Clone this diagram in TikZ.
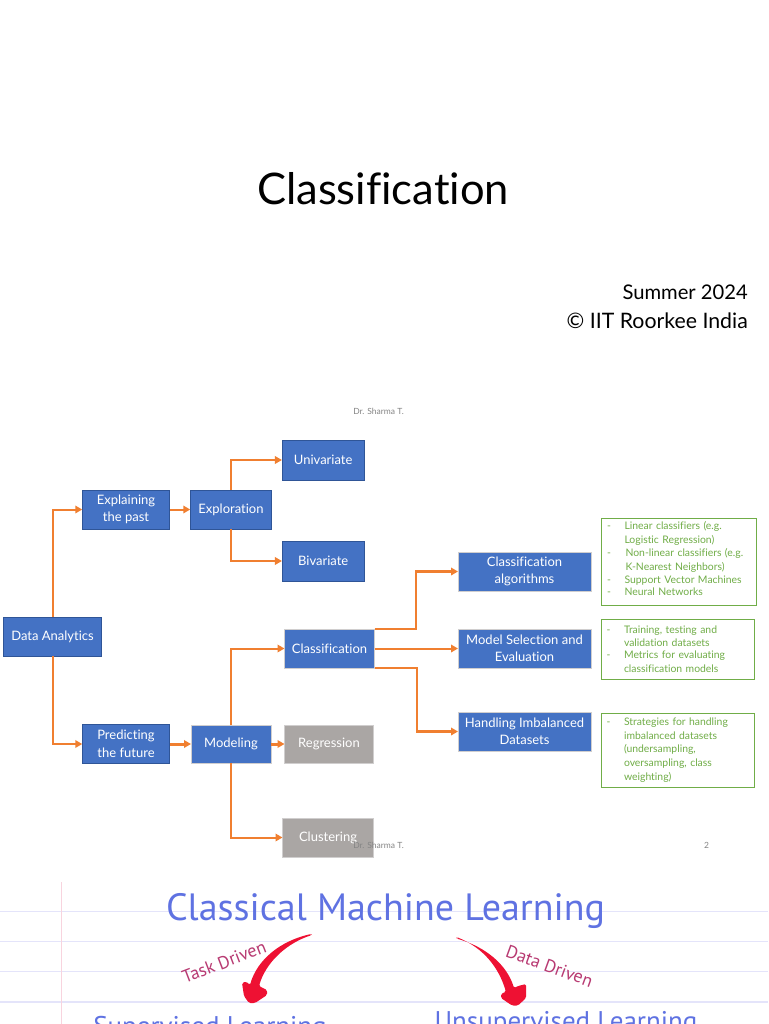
\documentclass[tikz,border=0pt]{standalone}
\usepackage{fontspec}
\setmainfont{Lato}[Ligatures=NoCommon]
\newfontfamily\handfont{PT Sans}
\usetikzlibrary{arrows.meta,calc}
\definecolor{bluefill}{HTML}{4472C4}
\definecolor{blueedge}{HTML}{2F5597}
\definecolor{greyfill}{HTML}{AAA6A4}
\definecolor{greyedge}{HTML}{D0CECE}
\definecolor{orangeln}{HTML}{F07F30}
\definecolor{greenln}{HTML}{70AD47}
\definecolor{footgrey}{HTML}{858585}
\definecolor{ruleln}{HTML}{E4E4FA}
\definecolor{marginln}{HTML}{F8D4DE}
\definecolor{handblue}{HTML}{5F72E2}
\definecolor{handred}{HTML}{EE1133}
\definecolor{handpink}{HTML}{B83A72}
\newcommand{\gd}{\makebox[17.5pt][l]{-}}
\newcommand{\gi}{\hspace*{17.5pt}}
\tikzset{
  x=1pt,y=-1pt,
  bluebox/.style={draw=blueedge,line width=0.6pt,fill=bluefill,text=white,inner sep=0pt,outer sep=0pt,align=center,font=\fontsize{13}{17.5}\selectfont},
  paleblue/.style={bluebox,draw=greyedge},
  greybox/.style={bluebox,draw=greyedge,fill=greyfill},
  greenbox/.style={draw=greenln,line width=1pt,text=greenln,inner sep=0pt,outer sep=0pt,align=left,font=\fontsize{10.4}{13.6}\selectfont},
  conn/.style={draw=orangeln,line width=2pt,-{Triangle[length=7pt,width=7.5pt]}},
  connthick/.style={conn,line width=3pt},
  foot/.style={text=footgrey,font=\fontsize{8.5}{10}\selectfont,inner sep=0pt},
  rule/.style={draw=ruleln,line width=1pt},
  handt/.style={font=\handfont,inner sep=0pt},
}
\begin{document}
\begin{tikzpicture}
\useasboundingbox (0,0) rectangle (768,1024);
\clip (0,0) rectangle (768,1024);
\fill[white] (0,0) rectangle (768,1024);

% first slide
\node[inner sep=0pt,font=\fontsize{43.5}{50}\selectfont] (title) at (383,189) {Classification};
\node[inner sep=0pt,anchor=east,font=\fontsize{20.2}{24}\selectfont] (sub1) at (748,292) {Summer 2024};
\node[inner sep=0pt,anchor=east,font=\fontsize{21.3}{24}\selectfont] (sub2) at (748,320.5) {© IIT Roorkee India};

% boxes
\node[bluebox,minimum width=98pt,minimum height=39pt] (da) at (52.5,636.5) {Data Analytics};
\node[bluebox,minimum width=87.5pt,minimum height=39pt] (ep) at (126,509.5) {Explaining\\the past};
\node[bluebox,minimum width=81.5pt,minimum height=39pt] (ex) at (231,509.5) {Exploration};
\node[bluebox,minimum width=82.5pt,minimum height=40pt] (un) at (323.2,460) {Univariate};
\node[bluebox,minimum width=82.5pt,minimum height=40pt] (bi) at (323.2,561) {Bivariate};
\node[bluebox,minimum width=87.5pt,minimum height=39pt] (pf) at (126,744) {Predicting\\the future};
\node[paleblue,minimum width=80pt,minimum height=38pt] (mo) at (231,744) {Modeling};
\node[paleblue,minimum width=90pt,minimum height=39pt] (cl) at (329.5,648.5) {Classification};
\node[greybox,minimum width=89pt,minimum height=38pt] (re) at (329,744) {Regression};
\node[greybox,minimum width=91pt,minimum height=39pt] (cu) at (328,837.5) {Clustering};
\node[paleblue,minimum width=133pt,minimum height=39pt] (al) at (524.5,571.5) {Classification\\algorithms};
\node[paleblue,minimum width=133pt,minimum height=39pt] (ms) at (524.5,648.5) {Model Selection and\\Evaluation};
\node[paleblue,minimum width=133pt,minimum height=39pt] (hi) at (524.5,731.5) {Handling Imbalanced\\Datasets};

% green note boxes
\node[greenbox,minimum width=155pt,minimum height=87pt,text width=143pt] (g1) at (678.5,561.5)
  {\gd Linear classifiers (e.g.\\ \gi Logistic Regression)\\ \gd\hspace*{1pt}Non-linear classifiers (e.g.\\ \gi\hspace*{1pt}K-Nearest Neighbors)\\[-0.6pt] \gd Support Vector Machines\\[-1.6pt] \gd Neural Networks\rule[-6pt]{0pt}{6pt}};
\node[greenbox,minimum width=153pt,minimum height=60pt,text width=143pt] (g2) at (678,649)
  {\gd Training, testing and\\ \gi validation datasets\\[-1.5pt] \gd Metrics for evaluating\\ \gi classification models};
\node[greenbox,minimum width=153pt,minimum height=74pt,text width=143pt] (g3) at (678,750)
  {\gd Strategies for handling\\ \gi imbalanced datasets\\ \gi (undersampling,\\ \gi oversampling, class\\ \gi weighting)};

% connectors
\coordinate (j1) at (416,629);
\coordinate (j2) at (417,668);
\draw[conn] (da.north) |- (ep.west);
\draw[conn] (da.south) |- (pf.west);
\draw[conn] (ep.east) -- (ex.west);
\draw[conn] (ex.north) |- (un.west);
\draw[conn] (ex.south) |- (bi.west);
\draw[connthick] (pf.east) -- (mo.west);
\draw[connthick] (mo.east) -- (re.west);
\draw[conn] (mo.north) |- (cl.west);
\draw[conn] (mo.south) |- (cu.west);
\draw[conn,line width=2.2pt] (cl.north east) -- (j1) |- (al.west);
\draw[conn] (cl.east) -- (ms.west);
\draw[conn,line width=2.2pt] (cl.south east) -- (j2) |- (hi.west);

% footers
\node[foot] (f1) at (378.5,411) {Dr. Sharma T.};
\node[foot] (f2) at (378.5,845) {Dr. Sharma T.};
\node[foot] (f3) at (706.5,845.5) {2};

% lined paper
\draw[rule] (0,911) -- (768,911);
\draw[rule] (0,941) -- (768,941);
\draw[rule] (0,971.5) -- (768,971.5);
\draw[rule,line width=1.5pt] (0,1002) -- (768,1002);
\draw[draw=marginln,line width=1pt] (61,882) -- (61,1024);

% hand-drawn slide
\node[handt,text=handblue,font=\handfont\fontsize{38}{40}\selectfont] (cml) at (385.5,911) {Classical Machine Learning};
\node[handt,text=handblue,font=\handfont\fontsize{27}{30}\selectfont] (sl) at (210,1029) {Supervised Learning};
\node[handt,text=handblue,font=\handfont\fontsize{27}{30}\selectfont] (ul) at (566,1024) {Unsupervised Learning};
\node[handt,text=handpink,font=\handfont\fontsize{18}{20}\selectfont,rotate=21] (td) at (224,962) {Task Driven};
\node[handt,text=handpink,font=\handfont\fontsize{18}{20}\selectfont,rotate=-20] (dd) at (549.5,966) {Data Driven};

% red arrows
\fill[handred,rounded corners=1.5pt]
  (312,935) .. controls (287,943) and (266,962) .. (259,986)
  -- (267,990) -- (267,995) -- (255,1003) -- (249,1003) -- (244,996) -- (242,983)
  -- (246,981.5) -- (250,985)
  .. controls (257,960) and (280,941) .. (311,934) -- cycle;
\fill[handred,rounded corners=1.5pt]
  (456.5,938.5) .. controls (486,947) and (507,965) .. (514,988)
  -- (518,986) -- (526,984) -- (526,998) -- (518,1005.5) -- (512,1005.5) -- (501,998) -- (501,994) -- (505,992) -- (506,992)
  .. controls (499,968) and (484,948) .. (456.5,937) -- cycle;
\end{tikzpicture}
\end{document}
